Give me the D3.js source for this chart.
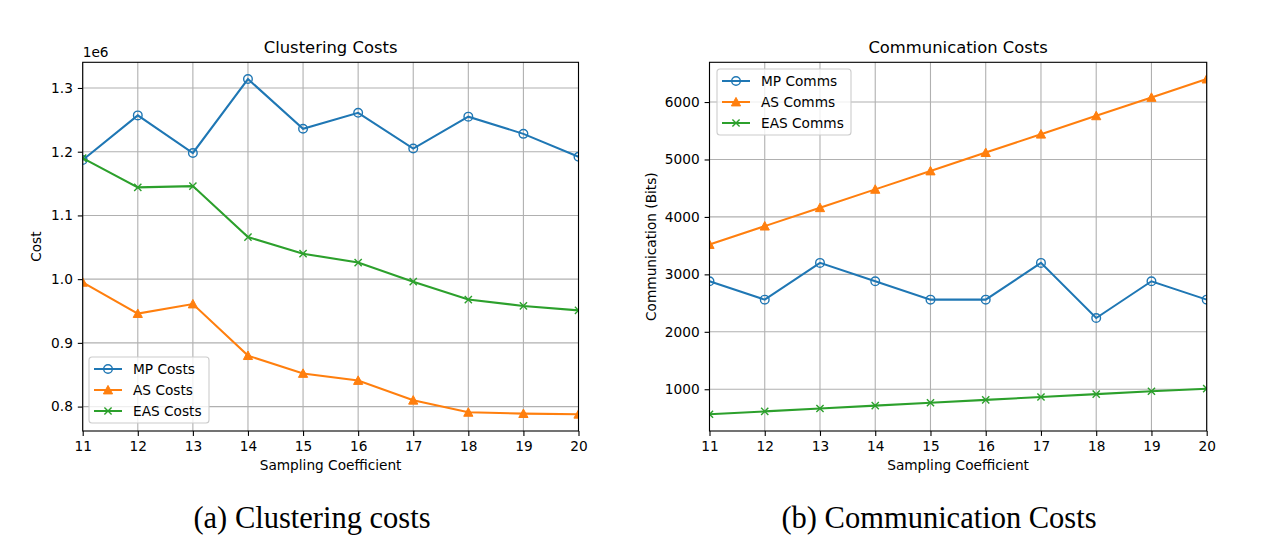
<!DOCTYPE html>
<html>
<head>
<meta charset="utf-8">
<script src="https://cdn.jsdelivr.net/npm/d3@7"></script>
<style>
  body { margin: 0; background: #fff; }
  svg { display: block; }
</style>
</head>
<body>
<div id="chart"></div>
<script>
"use strict";

// Sampling coefficient (shared x values)
const coefficients = [11, 12, 13, 14, 15, 16, 17, 18, 19, 20];

// Clustering costs (in units of 1e6)
const mpCosts  = [1.187, 1.257, 1.198, 1.314, 1.236, 1.261, 1.205, 1.255, 1.228, 1.192];
const asCosts  = [0.995, 0.946, 0.961, 0.880, 0.852, 0.841, 0.810, 0.791, 0.789, 0.788];
const easCosts = [1.190, 1.144, 1.146, 1.066, 1.040, 1.026, 0.996, 0.968, 0.958, 0.951];

// Communication costs (bits)
const mpComms  = [2880, 2560, 3200, 2880, 2560, 2560, 3200, 2240, 2880, 2560];
const asComms  = [3520, 3840, 4160, 4480, 4800, 5120, 5440, 5760, 6080, 6400];
const easComms = [565, 615, 665, 715, 765, 815, 865, 915, 965, 1010];

// Tick labels
const costTicks = [0.8, 0.9, 1.0, 1.1, 1.2, 1.3];
const commTicks = [1000, 2000, 3000, 4000, 5000, 6000];

const colors = {mp: "#1f77b4", as: "#ff7f0e", eas: "#2ca02c"};
const font = "'DejaVu Sans', sans-serif";
const tickSize = 13.7;

const width = 1273, height = 536;
let svg = d3.select("#chart").append("svg")
  .attr("width", width)
  .attr("height", height);

function drawMarker(g, kind, x, y, c) {
  if (kind === "circle") {
    g.append("circle")
      .attr("cx", x).attr("cy", y).attr("r", 4.3)
      .attr("fill", "none").attr("stroke", c).attr("stroke-width", 1.4);
  } else if (kind === "triangle") {
    let r = 4.6;
    g.append("path")
      .attr("d", `M${x},${y - r}L${x + r},${y + r * 0.85}L${x - r},${y + r * 0.85}Z`)
      .attr("fill", c).attr("stroke", c).attr("stroke-width", 1);
  } else {
    let r = 3.6;
    g.append("path")
      .attr("d", `M${x - r},${y - r}L${x + r},${y + r}M${x - r},${y + r}L${x + r},${y - r}`)
      .attr("stroke", c).attr("stroke-width", 1.4).attr("fill", "none");
  }
}

function drawPanel(opts) {
  let left = opts.left, right = opts.right, top = 62.3, bottom = 431;
  let g = svg.append("g");

  // Autoscale with 5% margins like matplotlib
  let all = [].concat(...opts.series.map(s => s.values));
  let lo = d3.min(all), hi = d3.max(all), pad = (hi - lo) * 0.05;

  let x = d3.scaleLinear().domain([11, 20]).range([left, right]);
  let y = d3.scaleLinear().domain([lo - pad, hi + pad]).range([bottom, top]);

  // Grid
  g.selectAll(".gx").data(coefficients).enter().append("line")
    .attr("x1", d => x(d)).attr("x2", d => x(d))
    .attr("y1", top).attr("y2", bottom)
    .attr("stroke", "#b0b0b0").attr("stroke-width", 1.1);
  g.selectAll(".gy").data(opts.ticks).enter().append("line")
    .attr("x1", left).attr("x2", right)
    .attr("y1", d => y(d)).attr("y2", d => y(d))
    .attr("stroke", "#b0b0b0").attr("stroke-width", 1.1);

  // Axes
  let xAxis = d3.axisBottom(x).tickValues(coefficients).tickSize(4.9).tickPadding(4.9)
    .tickFormat(d3.format("d"));
  let yAxis = d3.axisLeft(y).tickValues(opts.ticks).tickSize(4.9).tickPadding(4.9)
    .tickFormat(opts.format);

  let gx = g.append("g").attr("transform", `translate(0,${bottom})`).call(xAxis);
  let gy = g.append("g").attr("transform", `translate(${left},0)`).call(yAxis);
  [gx, gy].forEach(a => {
    a.select(".domain").remove();
    a.selectAll("line").attr("stroke", "#000").attr("stroke-width", 1.1);
    a.selectAll("text").attr("font-family", font).attr("font-size", tickSize).attr("fill", "#000");
  });

  // Series
  let line = d3.line().x((d, i) => x(coefficients[i])).y(d => y(d));
  let clip = "clip" + opts.id;
  svg.append("clipPath").attr("id", clip).append("rect")
    .attr("x", left).attr("y", top).attr("width", right - left).attr("height", bottom - top);
  let sg = g.append("g").attr("clip-path", `url(#${clip})`);
  opts.series.forEach(s => {
    sg.append("path").datum(s.values)
      .attr("d", line).attr("fill", "none")
      .attr("stroke", s.color).attr("stroke-width", 2.05);
    s.values.forEach((v, i) => drawMarker(sg, s.marker, x(coefficients[i]), y(v), s.color));
  });

  // Frame
  g.append("rect")
    .attr("x", left).attr("y", top).attr("width", right - left).attr("height", bottom - top)
    .attr("fill", "none").attr("stroke", "#000").attr("stroke-width", 1.1);

  // Title and labels
  g.append("text")
    .attr("x", (left + right) / 2).attr("y", 53)
    .attr("text-anchor", "middle")
    .attr("font-family", font).attr("font-size", 16.4)
    .text(opts.title);
  g.append("text")
    .attr("x", (left + right) / 2).attr("y", 470)
    .attr("text-anchor", "middle")
    .attr("font-family", font).attr("font-size", tickSize)
    .text("Sampling Coefficient");
  g.append("text")
    .attr("transform", `translate(${opts.ylabelX},${(top + bottom) / 2}) rotate(-90)`)
    .attr("text-anchor", "middle")
    .attr("font-family", font).attr("font-size", tickSize)
    .text(opts.ylabel);
  if (opts.offset) {
    g.append("text")
      .attr("x", left).attr("y", 57)
      .attr("font-family", font).attr("font-size", tickSize)
      .text(opts.offset);
  }

  // Legend
  let lg = g.append("g").attr("transform", `translate(${opts.legend[0]},${opts.legend[1]})`);
  lg.append("rect")
    .attr("x", 0).attr("y", 0).attr("rx", 3).attr("ry", 3)
    .attr("width", opts.legend[2]).attr("height", 66)
    .attr("fill", "rgba(255,255,255,0.8)").attr("stroke", "#cccccc").attr("stroke-width", 1.1);
  opts.series.forEach((s, i) => {
    let yy = 12 + i * 21;
    lg.append("line")
      .attr("x1", 5).attr("x2", 33).attr("y1", yy).attr("y2", yy)
      .attr("stroke", s.color).attr("stroke-width", 2.05);
    drawMarker(lg, s.marker, 19, yy, s.color);
    lg.append("text")
      .attr("x", 44).attr("y", yy + 5)
      .attr("font-family", font).attr("font-size", tickSize)
      .text(s.name);
  });

  // Caption
  svg.append("text")
    .attr("x", opts.captionX).attr("y", 528)
    .attr("text-anchor", "middle")
    .attr("font-family", "'Liberation Serif', 'Times New Roman', serif")
    .attr("font-size", 30.5)
    .text(opts.caption);
}

drawPanel({
  id: "a", left: 82.7, right: 578.5,
  title: "Clustering Costs", ylabel: "Cost", ylabelX: 41, offset: "1e6",
  ticks: costTicks, format: d3.format(".1f"),
  legend: [89, 357, 120],
  caption: "(a) Clustering costs", captionX: 312,
  series: [
    {name: "MP Costs", values: mpCosts, color: colors.mp, marker: "circle"},
    {name: "AS Costs", values: asCosts, color: colors.as, marker: "triangle"},
    {name: "EAS Costs", values: easCosts, color: colors.eas, marker: "x"}
  ]
});

drawPanel({
  id: "b", left: 709.5, right: 1206.7,
  title: "Communication Costs", ylabel: "Communication (Bits)", ylabelX: 656, offset: null,
  ticks: commTicks, format: d3.format("d"),
  legend: [717, 69, 134],
  caption: "(b) Communication Costs", captionX: 939,
  series: [
    {name: "MP Comms", values: mpComms, color: colors.mp, marker: "circle"},
    {name: "AS Comms", values: asComms, color: colors.as, marker: "triangle"},
    {name: "EAS Comms", values: easComms, color: colors.eas, marker: "x"}
  ]
});
</script>
</body>
</html>
